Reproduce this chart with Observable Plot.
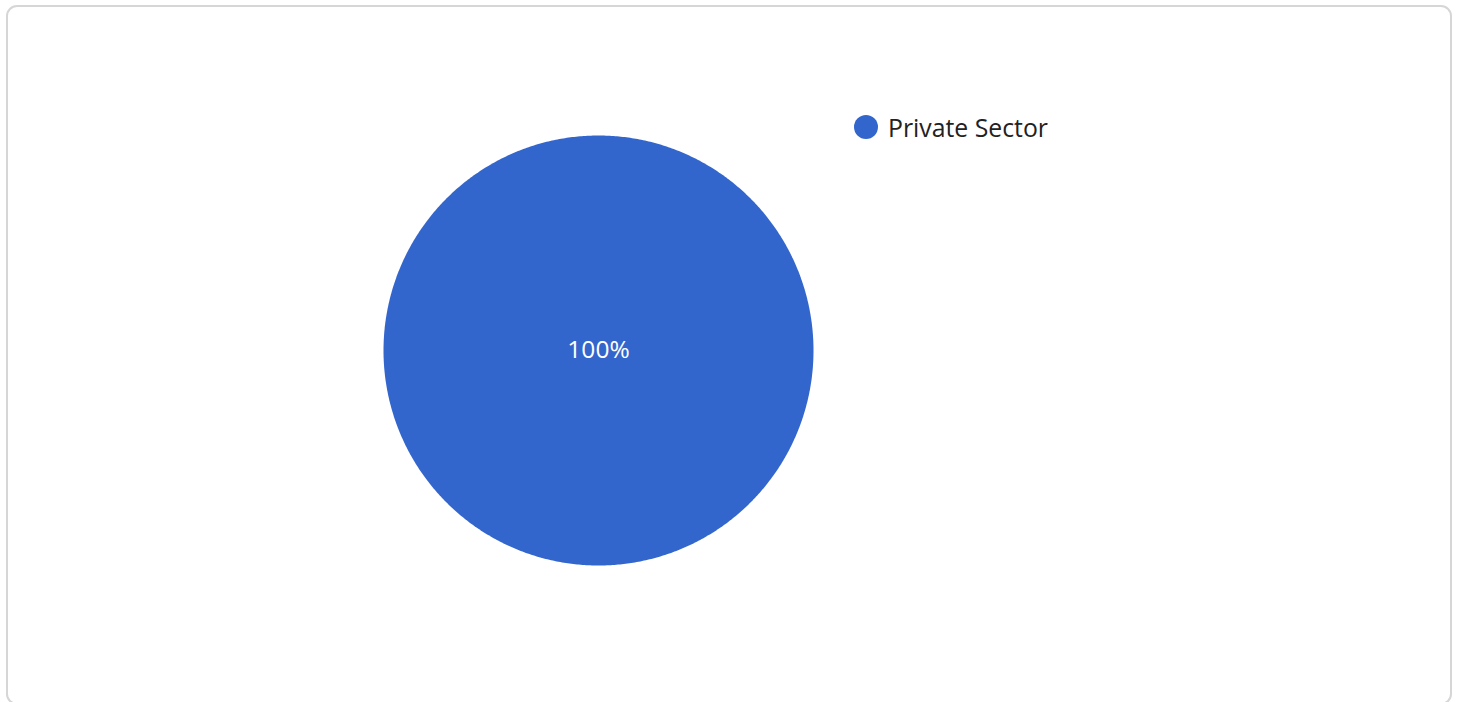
<!DOCTYPE html>
<html>
<head>
<meta charset="utf-8">
<script src="https://cdn.jsdelivr.net/npm/d3@7"></script>
<script src="https://cdn.jsdelivr.net/npm/@observablehq/plot@0.6"></script>
<style>
  html, body { margin: 0; padding: 0; background: #fff; width: 1458px; height: 702px; overflow: hidden; }
  #card { position: absolute; left: 6px; top: 5px; width: 1446px; height: 700px; border: 2px solid #d6d6d6; border-radius: 11px; box-sizing: border-box; }
  #chart { position: absolute; left: 0; top: 0; }
  #legend { position: absolute; left: 854px; top: 110px; height: 34px; font-family: "Open Sans", sans-serif; font-size: 24.8px; color: #222; display: flex; align-items: center; }
  #legend .sw { width: 24px; height: 24px; border-radius: 50%; margin-right: 10px; }
</style>
</head>
<body>
<div id="card"></div>
<div id="chart"></div>
<div id="legend"></div>
<script>
const categories = ["Private Sector"];
const values = [100];
const colors = ["#3366CC"];

const total = d3.sum(values);
const pie = d3.pie().sort(null).value(d => d.value)(categories.map((c, i) => ({category: c, value: values[i], color: colors[i]})));

// polygon points for each slice in unit coordinates
const pts = [];
pie.forEach((s, k) => {
  const span = s.endAngle - s.startAngle;
  const n = Math.max(2, Math.ceil(span / (Math.PI / 360)));
  if (span < 2 * Math.PI - 1e-9) pts.push({slice: k, x: 0, y: 0, color: s.data.color});
  for (let j = 0; j <= n; j++) {
    const a = s.startAngle + span * j / n;
    pts.push({slice: k, x: Math.sin(a), y: Math.cos(a), color: s.data.color});
  }
});
const labels = pie.map(s => {
  const frac = s.data.value / total;
  const mid = (s.startAngle + s.endAngle) / 2;
  const r = frac >= 0.9999 ? 0 : 0.6;
  return {x: r * Math.sin(mid), y: r * Math.cos(mid), text: Math.round(frac * 100) + "%"};
});

const chart = Plot.plot({
  width: 1458,
  height: 702,
  marginLeft: 383,
  marginRight: 645,
  marginTop: 135,
  marginBottom: 137,
  x: {domain: [-1, 1], axis: null},
  y: {domain: [-1, 1], axis: null},
  style: {background: "transparent", fontFamily: "'Open Sans', sans-serif"},
  marks: [
    Plot.line(pts, {x: "x", y: "y", z: "slice", fill: d => d.color, stroke: "white", strokeWidth: 0, curve: "linear"}),
    Plot.text(labels, {x: "x", y: "y", text: "text", fill: "white", fontSize: 24.5})
  ]
});
document.getElementById("chart").appendChild(chart);

const legend = document.getElementById("legend");
categories.forEach((c, i) => {
  const sw = document.createElement("div");
  sw.className = "sw";
  sw.style.background = colors[i];
  const t = document.createElement("span");
  t.textContent = c;
  legend.appendChild(sw);
  legend.appendChild(t);
});
</script>
</body>
</html>
